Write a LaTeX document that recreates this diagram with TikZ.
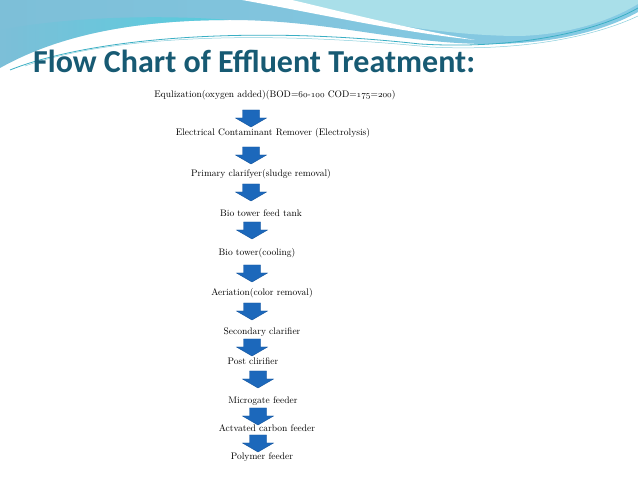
\documentclass[tikz,border=0pt]{standalone}
\usepackage{fontspec}
\newfontfamily\titlefont{Carlito}
\usetikzlibrary{calc,fadings}
\definecolor{titleteal}{HTML}{175A73}
\definecolor{arrowblue}{HTML}{1C68BB}
\definecolor{arrowdark}{HTML}{12549E}
\definecolor{bandleft}{HTML}{55CCDD}
\definecolor{bandmid}{HTML}{7DBFD8}
\definecolor{bandright}{HTML}{86CBE4}
\definecolor{lightband}{HTML}{A9DFE9}
\definecolor{thinline}{HTML}{3AAFC4}
\newcommand{\osn}[1]{{\fontencoding{OML}\fontfamily{cmm}\fontseries{m}\fontshape{it}\selectfont #1}}
\tikzset{
  steptext/.style={inner sep=0pt, font=\fontsize{9.5}{11}\selectfont, text=black},
  downarrow/.pic={
    \fill[arrowblue, draw=arrowdark, line width=0.4pt]
      (-8.5,0) -- (8.5,0) -- (8.5,8) -- (15.5,8) -- (0,17) -- (-15.5,8) -- (-8.5,8) -- cycle;
  }
}
\begin{document}
\begin{tikzpicture}[x=1pt,y=-1pt]
\useasboundingbox (0,0) rectangle (638,478);
\fill[white] (0,0) rectangle (638,478);
% decorative band
\shade[left color=bandmid, right color=bandright]
  (0,0) -- (0,68) .. controls (50,40) and (120,20) .. (230,20)
  .. controls (330,20) and (400,44) .. (490,44)
  .. controls (560,44) and (610,28) .. (638,12) -- (638,0) -- cycle;
\fill[bandleft, path fading=west]
  (0,68) .. controls (50,40) and (120,20) .. (230,20)
  .. controls (150,14) and (60,18) .. (0,30) -- cycle;
\fill[lightband]
  (290,0) .. controls (360,22) and (450,36) .. (520,36)
  .. controls (580,34) and (620,15) .. (638,4) -- (638,0) -- cycle;
\fill[white]
  (242,0) .. controls (320,14) and (400,32) .. (475,40)
  .. controls (400,27) and (335,10) .. (292,0) -- cycle;
\draw[thinline, line width=0.8pt]
  (10,70) .. controls (90,38) and (250,25) .. (420,44)
  .. controls (520,50) and (600,30) .. (638,8);
\draw[thinline!60, line width=0.5pt]
  (25,66) .. controls (110,36) and (260,30) .. (430,47)
  .. controls (530,52) and (600,34) .. (638,16);
% title
\node[anchor=base west, inner sep=0pt, text=titleteal,
  font=\titlefont\bfseries\fontsize{32}{36}\selectfont] (title) at (33,73)
  {Flow Chart of Effluent Treatment:};
% steps
\node[steptext] (s1) at (275,95) {Equlization(oxygen added)(BOD=\osn{60}-\osn{100} COD=\osn{175}=\osn{200})};
\node[steptext] (s2) at (273,133) {Electrical Contaminant Remover (Electrolysis)};
\node[steptext] (s3) at (261,174) {Primary clarifyer(sludge removal)};
\node[steptext] (s4) at (261,213) {Bio tower feed tank};
\node[steptext] (s5) at (257,253) {Bio tower(cooling)};
\node[steptext] (s6) at (262,293) {Aeriation(color removal)};
\node[steptext] (s7) at (262,332) {Secondary clarifier};
\node[steptext] (s8) at (253,361) {Post clirifier};
\node[steptext] (s9) at (263,401) {Microgate feeder};
\node[steptext] (s10) at (267,428) {Actvated carbon feeder};
\node[steptext] (s11) at (262,457) {Polymer feeder};
% block arrows
\pic at (251,110) {downarrow};
\pic at (251,147) {downarrow};
\pic at (251,184) {downarrow};
\pic at (252,222) {downarrow};
\pic at (252,265) {downarrow};
\pic at (252,303) {downarrow};
\pic at (252,339) {downarrow};
\pic at (258,371) {downarrow};
\pic at (258,408) {downarrow};
\pic at (258,435) {downarrow};
\end{tikzpicture}
\end{document}
